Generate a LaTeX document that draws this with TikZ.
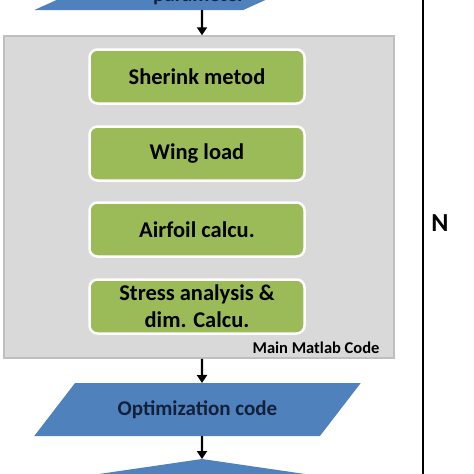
\documentclass[tikz,border=0pt]{standalone}
\usepackage{fontspec}
\setmainfont{Carlito}
\usetikzlibrary{arrows.meta,positioning,shapes.geometric}
\definecolor{flowblue}{HTML}{4F81BD}
\definecolor{calcgreen}{HTML}{9BBB59}
\definecolor{panelgray}{HTML}{D9D9D9}
\definecolor{panelline}{HTML}{BFBFBF}
\definecolor{navytext}{HTML}{13203A}

\begin{document}
\begin{tikzpicture}[x=1pt,y=-1pt,
  iobox/.style={trapezium,trapezium left angle=39,trapezium right angle=141,trapezium stretches=true,
    minimum width=327,minimum height=53,inner sep=2pt,outer sep=0,fill=flowblue,text=navytext,
    font=\fontsize{21}{25}\selectfont\bfseries},
  calcbox/.style={rounded corners=8pt,fill=calcgreen,draw=white,line width=2.5pt,
    minimum width=215,minimum height=54,align=center,font=\fontsize{22.5}{27}\selectfont\bfseries},
  arr/.style={line width=2.4pt,-{Triangle[length=8pt,width=10pt]}}]
\clip (0,0) rectangle (474,474);
\fill[white] (0,0) rectangle (474,474);
% main matlab block
\node[draw=panelline,fill=panelgray,line width=1.5pt,minimum width=390,minimum height=322,inner sep=0] (main) at (199,197) {};
\node[calcbox] (shrink) at (197,76.5) {Sherink metod};
\node[calcbox] (wing) at (197,153.5) {Wing load};
\node[calcbox] (airfoil) at (197,229.5) {Airfoil calcu.};
\node[calcbox] (stress) at (197,306.5) {Stress analysis \&\\dim. Calcu.};
\node[anchor=base east,font=\fontsize{16.5}{19}\selectfont\bfseries] (mainlbl) at (383,353) {Main Matlab Code};
% input, optimization, decision
\node[iobox] (inp) at (197.5,-16.5) {\phantom{x}};
\node[anchor=base,text=navytext,font=\fontsize{21}{25}\selectfont\bfseries] (inplbl) at (199,1) {parameter};
\node[iobox] (opt) at (197.5,409.5) {Optimization code};
\node[diamond,fill=flowblue,minimum width=412,minimum height=60,inner sep=2pt,outer sep=0] (dec) at (202,489) {};
\draw[arr] ([xshift=4.5]inp.south) -- ([xshift=3]main.north);
\draw[arr] ([xshift=3]main.south) -- ([xshift=4.5]opt.north);
\draw[arr] ([xshift=4.5]opt.south) -- (dec.north);
% loop back line
\coordinate (looptop) at (423,0);
\coordinate (loopbot) at (423,474);
\draw[line width=2.4pt] (looptop) -- (loopbot);
\node[font=\fontsize{26}{30}\selectfont\bfseries] (nolbl) at (440,223) {N};
\end{tikzpicture}
\end{document}
